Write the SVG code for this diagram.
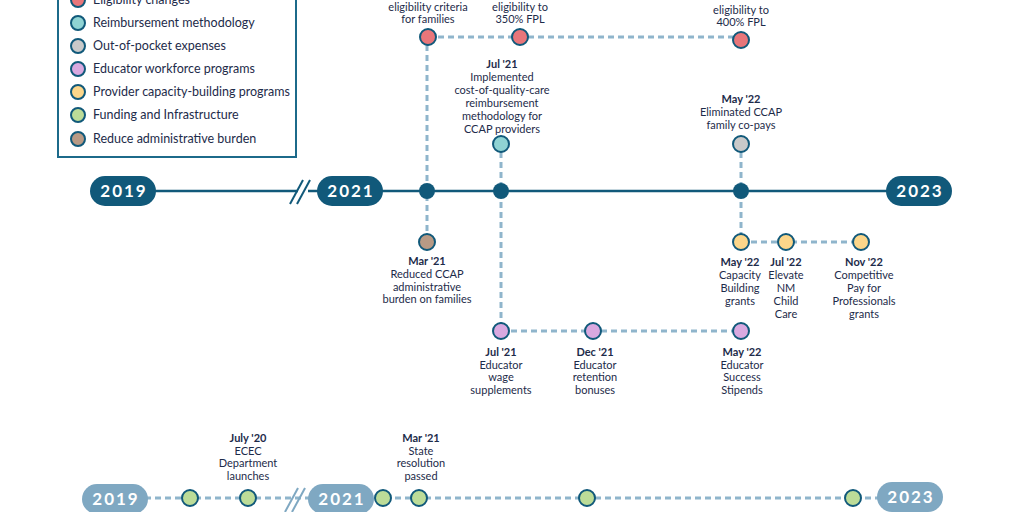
<svg xmlns="http://www.w3.org/2000/svg" width="1024" height="512" viewBox="0 0 1024 512">
<style>
text{font-family:Lato,"Open Sans",sans-serif;font-size:11px;fill:#1d2b4a;text-anchor:middle}
.b{font-weight:bold}
.lg{text-anchor:start;font-size:12.5px}
.yr{fill:#fff;font-size:17px;font-weight:bold;letter-spacing:2px}
.dot{stroke:#11597a;stroke-width:2}
.ax{stroke:#11597a;stroke-width:2.5}
.dash{stroke:#8fb5cc;stroke-width:3;stroke-dasharray:6 4;fill:none}
</style>
<rect width="1024" height="512" fill="#fff"/>
<g id="legend">
<rect x="58" y="-5" width="238" height="162" fill="#fff" stroke="#1c6a8a" stroke-width="2"/>
<circle class="dot" cx="78" cy="0" r="7" fill="#e8767a"/><text class="lg" x="93" y="4">Eligibility changes</text>
<circle class="dot" cx="78" cy="23" r="7" fill="#8fd3d3"/><text class="lg" x="93" y="27">Reimbursement methodology</text>
<circle class="dot" cx="78" cy="46" r="7" fill="#c9c9c9"/><text class="lg" x="93" y="50">Out-of-pocket expenses</text>
<circle class="dot" cx="78" cy="69" r="7" fill="#d9a9e0"/><text class="lg" x="93" y="73">Educator workforce programs</text>
<circle class="dot" cx="78" cy="92" r="7" fill="#fcd68a"/><text class="lg" x="93" y="96">Provider capacity-building programs</text>
<circle class="dot" cx="78" cy="115" r="7" fill="#bcdc98"/><text class="lg" x="93" y="119">Funding and Infrastructure</text>
<circle class="dot" cx="78" cy="139" r="7" fill="#b89a85"/><text class="lg" x="93" y="143">Reduce administrative burden</text>
</g>
<g id="connectors">
<line class="ax" x1="150" y1="191" x2="298" y2="191"/>
<line class="ax" x1="308" y1="191" x2="890" y2="191"/>
<line x1="290" y1="204" x2="303" y2="180" stroke="#11597a" stroke-width="2"/>
<line x1="297" y1="204" x2="310" y2="180" stroke="#11597a" stroke-width="2"/>
<polyline class="dash" points="428,37 741,37 741,40"/>
<line class="dash" x1="427" y1="45" x2="427" y2="235"/>
<line class="dash" x1="501" y1="152" x2="501" y2="324"/>
<line class="dash" x1="741" y1="152" x2="741" y2="235"/>
<line class="dash" x1="741" y1="242" x2="861" y2="242"/>
<line class="dash" x1="501" y1="331" x2="741" y2="331"/>
<line class="dash" x1="145" y1="498" x2="880" y2="498"/>
<line x1="285" y1="512" x2="298" y2="488" stroke="#7fa8c2" stroke-width="2"/>
<line x1="292" y1="512" x2="305" y2="488" stroke="#7fa8c2" stroke-width="2"/>
</g>
<g id="years">
<rect x="90" y="176" width="66" height="30" rx="15" fill="#11597a"/><text class="yr" x="124" y="197">2019</text>
<rect x="317" y="176" width="66" height="30" rx="15" fill="#11597a"/><text class="yr" x="351" y="197">2021</text>
<rect x="886" y="176" width="66" height="30" rx="15" fill="#11597a"/><text class="yr" x="920" y="197">2023</text>
<rect x="82" y="484" width="66" height="30" rx="15" fill="#7fa8c2"/><text class="yr" x="116" y="505">2019</text>
<rect x="308" y="484" width="66" height="30" rx="15" fill="#7fa8c2"/><text class="yr" x="342" y="505">2021</text>
<rect x="877" y="482" width="66" height="30" rx="15" fill="#7fa8c2"/><text class="yr" x="911" y="503">2023</text>
</g>
<g id="axis-nodes">
<circle cx="427" cy="191" r="8" fill="#11597a"/>
<circle cx="501" cy="191" r="8" fill="#11597a"/>
<circle cx="741" cy="191" r="8" fill="#11597a"/>
</g>
<g id="elig">
<circle class="dot" cx="428" cy="37" r="8" fill="#e8767a"/><text x="428" y="11">eligibility criteria</text><text x="428" y="23">for families</text>
<circle class="dot" cx="520" cy="37" r="8" fill="#e8767a"/><text x="520" y="11">eligibility to</text><text x="520" y="23">350% FPL</text>
<circle class="dot" cx="741" cy="40" r="8" fill="#e8767a"/><text x="741" y="14">eligibility to</text><text x="741" y="26">400% FPL</text>
</g>
<g id="reimb">
<circle class="dot" cx="501" cy="144" r="8" fill="#8fd3d3"/>
<text class="b" x="502" y="68">Jul '21</text><text x="502" y="81">Implemented</text><text x="502" y="94">cost-of-quality-care</text><text x="502" y="107">reimbursement</text><text x="502" y="120">methodology for</text><text x="502" y="133">CCAP providers</text>
</g>
<g id="oop">
<circle class="dot" cx="741" cy="144" r="8" fill="#c9c9c9"/>
<text class="b" x="741" y="103">May '22</text><text x="741" y="116">Eliminated CCAP</text><text x="741" y="129">family co-pays</text>
</g>
<g id="admin">
<circle class="dot" cx="427" cy="242" r="8" fill="#b89a85"/>
<text class="b" x="427" y="265">Mar '21</text><text x="427" y="278">Reduced CCAP</text><text x="427" y="291">administrative</text><text x="427" y="303">burden on families</text>
</g>
<g id="capacity">
<circle class="dot" cx="741" cy="242" r="8" fill="#fcd68a"/>
<text class="b" x="740" y="266">May '22</text><text x="740" y="279">Capacity</text><text x="740" y="292">Building</text><text x="740" y="305">grants</text>
<circle class="dot" cx="786" cy="242" r="8" fill="#fcd68a"/>
<text class="b" x="786" y="266">Jul '22</text><text x="786" y="279">Elevate</text><text x="786" y="292">NM</text><text x="786" y="305">Child</text><text x="786" y="318">Care</text>
<circle class="dot" cx="861" cy="242" r="8" fill="#fcd68a"/>
<text class="b" x="864" y="266">Nov '22</text><text x="864" y="279">Competitive</text><text x="864" y="292">Pay for</text><text x="864" y="305">Professionals</text><text x="864" y="318">grants</text>
</g>
<g id="workforce">
<circle class="dot" cx="501" cy="331" r="8" fill="#d9a9e0"/>
<text class="b" x="501" y="356">Jul '21</text><text x="501" y="369">Educator</text><text x="501" y="381">wage</text><text x="501" y="394">supplements</text>
<circle class="dot" cx="593" cy="331" r="8" fill="#d9a9e0"/>
<text class="b" x="595" y="356">Dec '21</text><text x="595" y="369">Educator</text><text x="595" y="381">retention</text><text x="595" y="394">bonuses</text>
<circle class="dot" cx="741" cy="331" r="8" fill="#d9a9e0"/>
<text class="b" x="742" y="356">May '22</text><text x="742" y="369">Educator</text><text x="742" y="381">Success</text><text x="742" y="394">Stipends</text>
</g>
<g id="funding">
<circle class="dot" cx="190" cy="498" r="8" fill="#bcdc98"/>
<circle class="dot" cx="248" cy="498" r="8" fill="#bcdc98"/>
<text class="b" x="248" y="442">July '20</text><text x="248" y="455">ECEC</text><text x="248" y="467">Department</text><text x="248" y="480">launches</text>
<circle class="dot" cx="383" cy="498" r="8" fill="#bcdc98"/>
<circle class="dot" cx="419" cy="498" r="8" fill="#bcdc98"/>
<text class="b" x="421" y="442">Mar '21</text><text x="421" y="455">State</text><text x="421" y="467">resolution</text><text x="421" y="480">passed</text>
<circle class="dot" cx="587" cy="498" r="8" fill="#bcdc98"/>
<circle class="dot" cx="853" cy="498" r="8" fill="#bcdc98"/>
</g>
</svg>
